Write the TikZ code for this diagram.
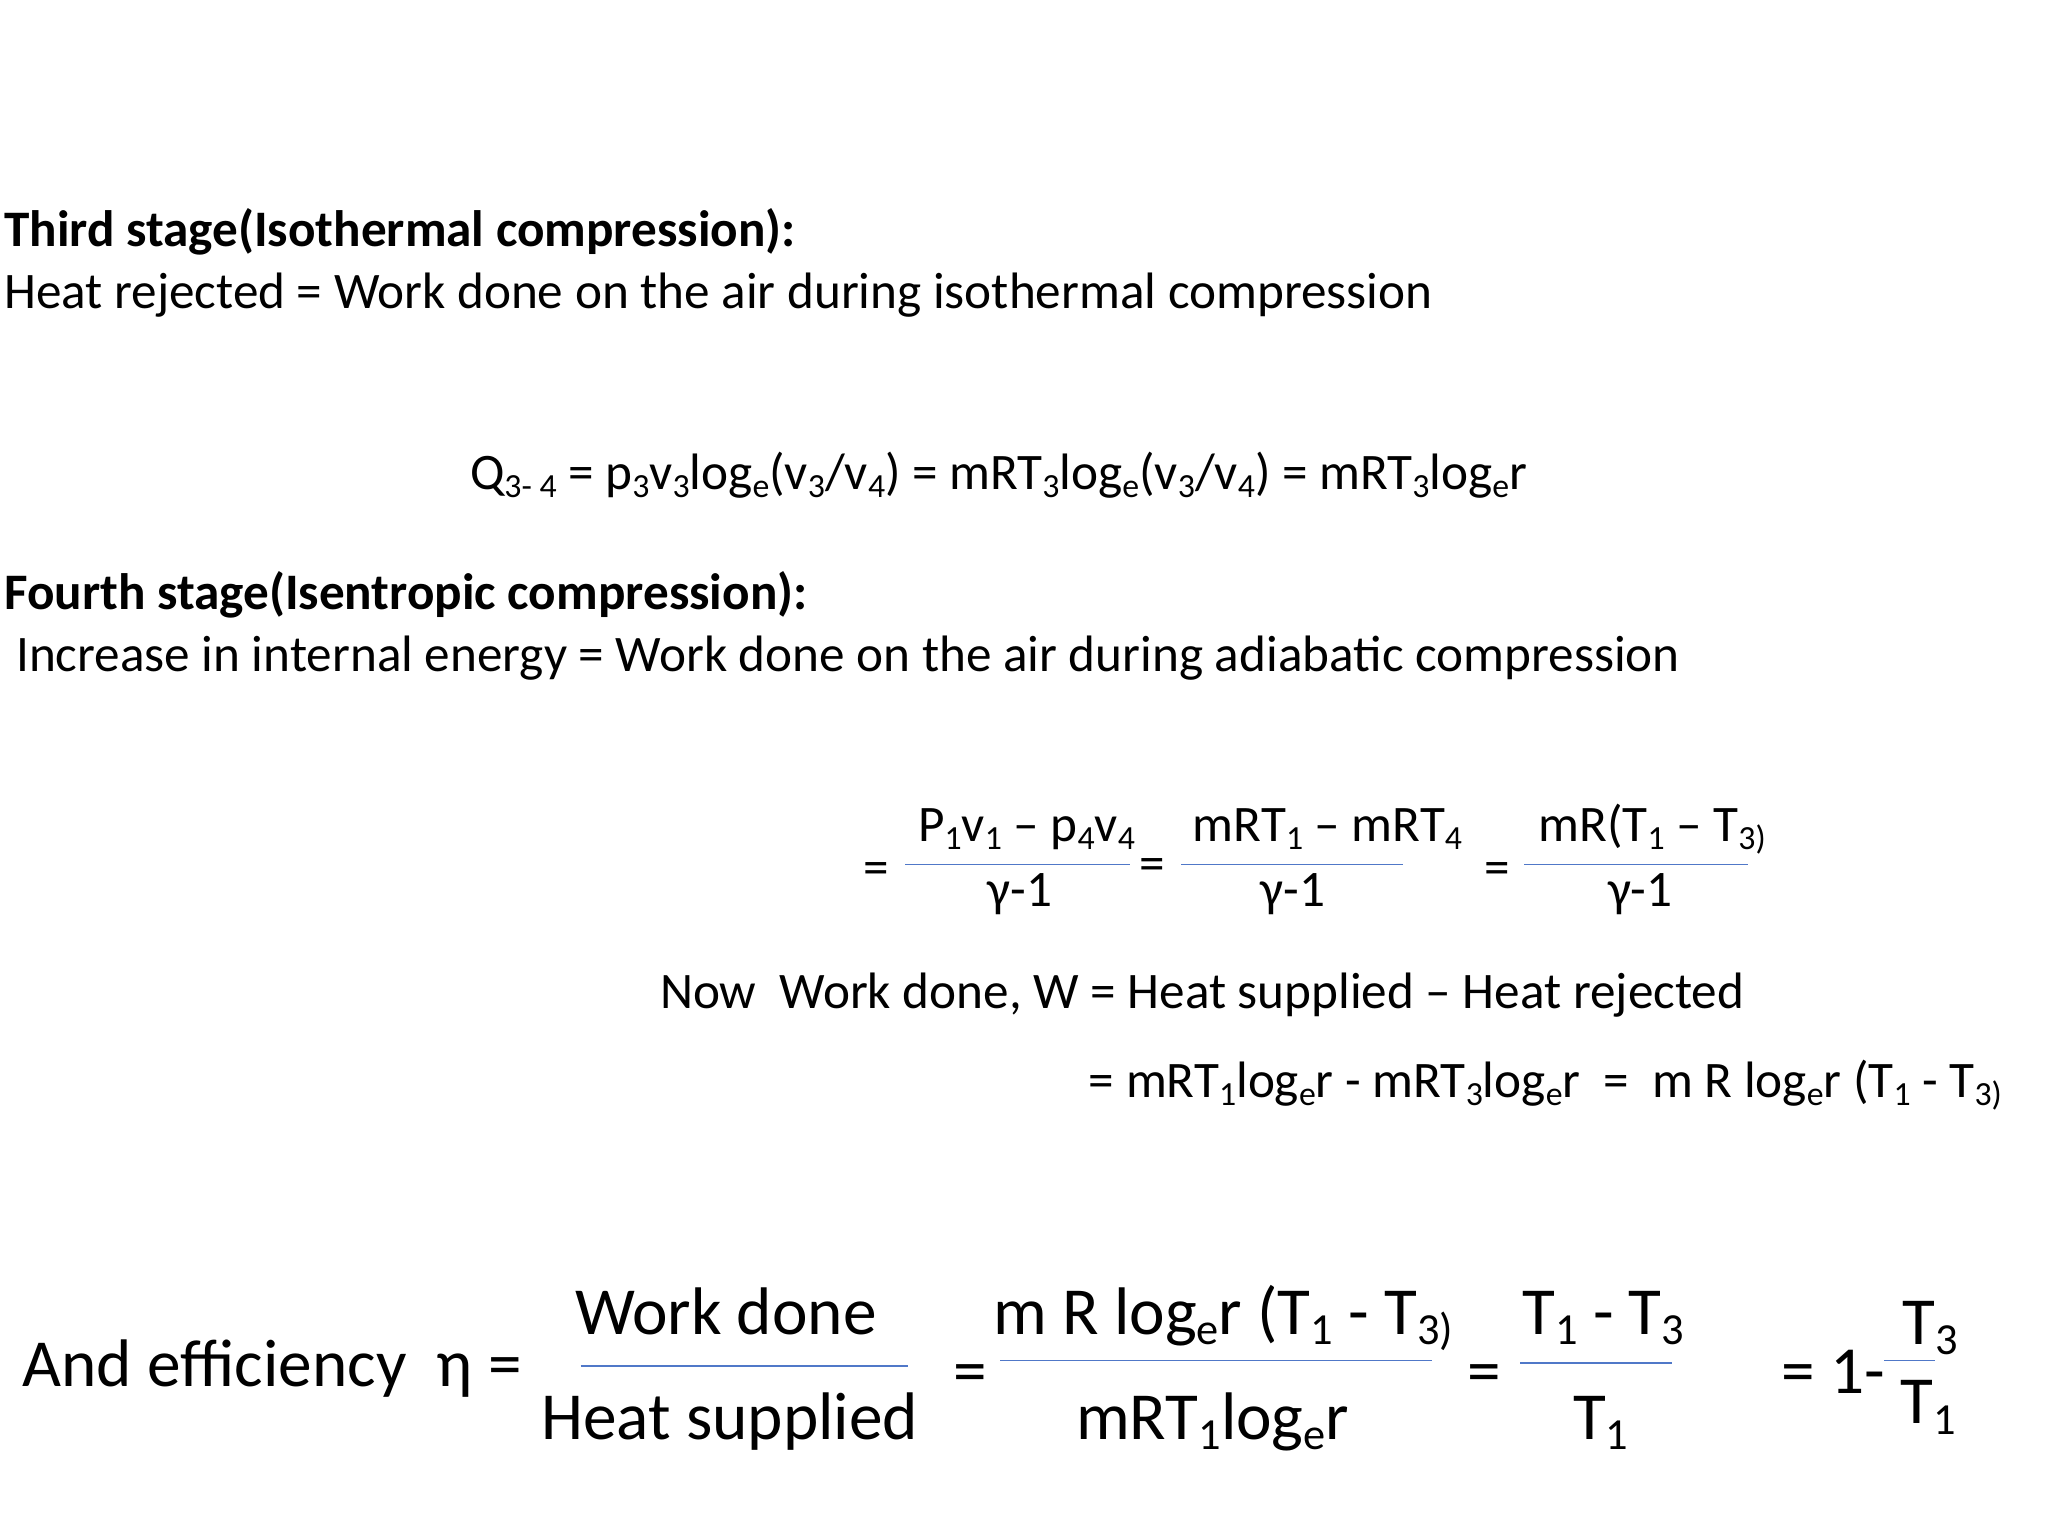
\documentclass[tikz,border=0pt]{standalone}
\usepackage{fontspec}
\setmainfont{Carlito}
\makeatletter
\newcommand{\sbs}[1]{\raisebox{-0.32ex}{\fontsize{\strip@pt\dimexpr0.66\dimexpr\f@size pt\relax\relax}{1}\selectfont #1}}
\makeatother
\definecolor{fcol}{RGB}{80,120,200}
\begin{document}
\begin{tikzpicture}[x=1pt,y=-1pt,
  t/.style={anchor=base west,inner sep=0pt,font=\fontsize{38.8}{44}\selectfont},
  tc/.style={t,anchor=base},
  tb/.style={t,font=\fontsize{38.8}{44}\selectfont\bfseries},
  big/.style={anchor=base west,inner sep=0pt,font=\fontsize{51}{60}\selectfont},
  bc/.style={big,anchor=base},
  fl/.style={draw=fcol,line width=1.2pt}]
\useasboundingbox (0,0) rectangle (1552,1164);
\node[tb] (h1) at (3,187) {Third stage(Isothermal compression):};
\node[t] (l1) at (3,234) {Heat rejected = Work done on the air during isothermal compression};
\node[t] (q) at (356,371) {Q\sbs{3- 4} = p\sbs{3}v\sbs{3}log\sbs{e}(v\sbs{3}/v\sbs{4}) = mRT\sbs{3}log\sbs{e}(v\sbs{3}/v\sbs{4}) = mRT\sbs{3}log\sbs{e}r};
\node[tb] (h2) at (3,462) {Fourth stage(Isentropic compression):};
\node[t] (l2) at (12,509) {Increase in internal energy = Work done on the air during adiabatic compression};
% fractions row
\node[t] (e1) at (654,670) {=};
\node[tc] (n1) at (778,638) {P\sbs{1}v\sbs{1} -- p\sbs{4}v\sbs{4}};
\node[tc] (d1) at (773,687) {γ-1};
\draw[fl] (686,655) -- (856,655);
\node[t] (e2) at (863,667) {=};
\node[tc] (n2) at (1006,638) {mRT\sbs{1} -- mRT\sbs{4}};
\node[tc] (d2) at (980,687) {γ-1};
\draw[fl] (895,655) -- (1063,655);
\node[t] (e3) at (1125,670) {=};
\node[tc] (n3) at (1252,638) {mR(T\sbs{1} -- T\sbs{3)}};
\node[tc] (d3) at (1243,687) {γ-1};
\draw[fl] (1155,655) -- (1325,655);
\node[t] (w) at (500,764) {Now\ \ Work done, W = Heat supplied -- Heat rejected};
\node[t] (w2) at (825,832) {= mRT\sbs{1}log\sbs{e}r - mRT\sbs{3}log\sbs{e}r\ \ =\ \ m R log\sbs{e}r (T\sbs{1} - T\sbs{3)}};
% efficiency
\node[big] (ae) at (17,1051) {And efficiency\ \ η =};
\node[bc] (wn) at (550,1011) {Work done};
\node[bc] (hs) at (553,1091) {Heat supplied};
\draw[fl] (440,1035) -- (688,1035);
\node[big] (f1) at (722,1056) {=};
\node[bc] (mn) at (927,1011) {m R log\sbs{e}r (T\sbs{1} - T\sbs{3)}};
\node[bc] (md) at (919,1091) {mRT\sbs{1}log\sbs{e}r};
\draw[fl] (758,1031) -- (1085,1031);
\node[big] (f2) at (1112,1056) {=};
\node[bc] (tn) at (1215,1011) {T\sbs{1} - T\sbs{3}};
\node[bc] (td) at (1213,1091) {T\sbs{1}};
\draw[fl] (1152,1033) -- (1267,1033);
\node[big] (f3) at (1350,1056) {= 1-};
\node[bc] (un) at (1463,1019) {T\sbs{3}};
\node[bc] (ud) at (1461,1079) {T\sbs{1}};
\draw[fl] (1428,1031) -- (1466,1031);
\end{tikzpicture}
\end{document}
